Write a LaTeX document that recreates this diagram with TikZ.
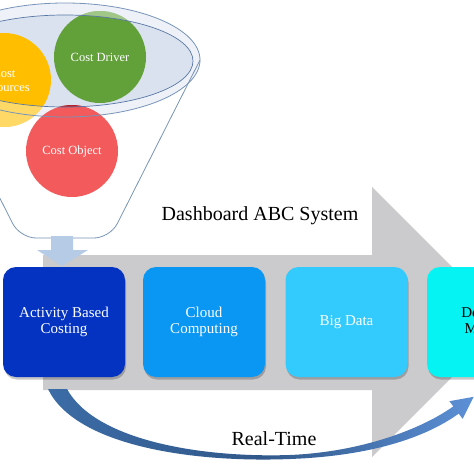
\documentclass[tikz,border=0pt]{standalone}
\usepackage{fontspec}
\setmainfont{Liberation Serif}
\begin{document}
\begin{tikzpicture}[x=1pt,y=-1pt,
  boxbase/.style={rounded corners=13pt, minimum width=122pt, minimum height=110pt, inner sep=2pt, align=center, font=\fontsize{15}{16.5}\selectfont},
  circlabel/.style={text=white, align=center, font=\fontsize{12.5}{14}\selectfont},
  bigtext/.style={font=\fontsize{20}{22}\selectfont, text=black},
  funnelline/.style={draw=funnelc, line width=0.8pt}
]
\definecolor{funnelc}{HTML}{7894B8}
\definecolor{innerc}{HTML}{5A78A6}
\definecolor{rimfill}{HTML}{EEF2F8}
\definecolor{ellfill}{HTML}{D9E2EE}
\definecolor{cgreen}{HTML}{62A03A}
\definecolor{cyellow}{HTML}{FFBF00}
\definecolor{cred}{HTML}{F25A5C}
\definecolor{cdred}{HTML}{B8242E}
\definecolor{arrowgray}{HTML}{CBCACC}
\definecolor{stemc}{HTML}{B6CBE5}
\definecolor{boxa}{HTML}{0433C2}
\definecolor{boxb}{HTML}{0A97F3}
\definecolor{boxc}{HTML}{33CBFD}
\definecolor{boxd}{HTML}{05F3F3}
\definecolor{rtleft}{HTML}{3C6CA6}
\definecolor{rtmid}{HTML}{31588A}
\definecolor{rtright}{HTML}{5C90D6}
\useasboundingbox (0,0) rectangle (474,474);
\clip (0,0) rectangle (474,474);
\fill[white] (0,0) rectangle (474,474);

% big gray arrow
\fill[arrowgray] (43,255) -- (372,255) -- (372,187) -- (507,322) -- (372,457) -- (372,390) -- (43,390) -- cycle;

% funnel rim and top ellipse fills
\fill[rimfill] (65,60) ellipse [x radius=135, y radius=57];
\fill[ellfill] (65,61) ellipse [x radius=128, y radius=46];

% circles behind funnel
\fill[cyellow] (4,80) circle [radius=47];
\fill[cgreen] (100,57) circle [radius=46];
\begin{scope}[even odd rule]
  \clip (-200,-200) rectangle (700,700) (65,61) ellipse [x radius=128, y radius=46];
  \fill[white, opacity=0.4] (4,80) circle [radius=47];
  \fill[white, opacity=0.4] (100,57) circle [radius=46];
\end{scope}
\fill[cred] (72,151) circle [radius=46];
\begin{scope}
  \clip (65,61) ellipse [x radius=128, y radius=46];
  \fill[cdred] (72,151) circle [radius=46];
\end{scope}

% funnel outline
\draw[funnelline, rounded corners=16pt] (-70,60) -- (20,238) -- (110,238) -- (200,60);
\draw[funnelline] (65,60) ellipse [x radius=135, y radius=57];
\draw[draw=innerc, line width=0.7pt] (65,61) ellipse [x radius=128, y radius=46];

% circle labels
\node[circlabel] (res) at (4,80) {Cost\\Resources};
\node[circlabel] (drv) at (100,57) {Cost Driver};
\node[circlabel] (obj) at (72,151) {Cost Object};

% stem arrow
\fill[stemc] (51,236) -- (73,236) -- (73,250) -- (88,250) -- (62,266) -- (37,250) -- (51,250) -- cycle;

% box shadows
\foreach \cx in {64,204,346.5,488}{
  \fill[black, opacity=0.22, rounded corners=13pt] (\cx-61+1,267+2.5) rectangle (\cx+61+1,377+2.5);
}

% boxes
\node[boxbase, fill=boxa, text=white] (abc) at (64,322) {Activity Based\\Costing};
\node[boxbase, fill=boxb, text=white] (cloud) at (204,322) {Cloud\\Computing};
\node[boxbase, fill=boxc, text=white] (big) at (346.5,322) {Big Data};
\node[boxbase, fill=boxd, text=black] (dec) at (488,322) {Decision\\Making};

% title
\node[bigtext] (title) at (260,216) {Dashboard ABC System};

% real-time curved arrow
\shade[left color=rtleft, right color=rtright, middle color=rtmid]
  (48,389) .. controls (75,445) and (190,463) .. (290,459)
  .. controls (370,456) and (425,438) .. (458.7,413.6)
  -- (462.6,418.8) -- (473.6,396.8) -- (449.4,401.2) -- (453.3,406.4)
  .. controls (420,430) and (360,452) .. (290,455)
  .. controls (200,458) and (95,440) .. (67,389) -- cycle;

\node[bigtext] (rt) at (274,439) {Real-Time};
\end{tikzpicture}
\end{document}
